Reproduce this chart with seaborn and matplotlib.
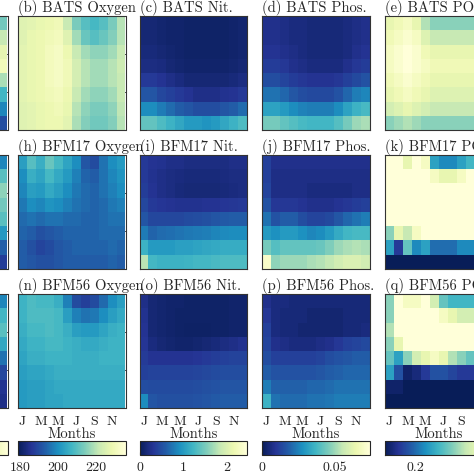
import numpy as np
import matplotlib
matplotlib.use("Agg")
import matplotlib.pyplot as plt
import seaborn as sns

sns.set_style("white")
plt.rcParams['font.family'] = ['cmr10', 'DejaVu Serif']
plt.rcParams['axes.formatter.use_mathtext'] = True

months = ["J", "", "M", "", "M", "", "J", "", "S", "", "N", ""]

# rows = depth (surface -> bottom), columns = months Jan..Dec
a_temp = [[0.60]*12, [0.75]*12, [0.85]*12, [0.90]*12, [0.70]*12, [0.50]*12, [0.35]*12, [0.20]*12]
b_oxy = [
 [226,227,228,229,230,222,214,210,208,210,214,220],
 [226,228,229,230,231,226,218,212,210,212,215,220],
 [227,228,229,231,232,229,222,218,216,216,218,222],
 [227,228,229,231,232,230,224,220,218,218,220,223],
 [227,228,229,231,232,230,224,220,218,218,220,222],
 [227,228,229,230,231,229,222,218,216,216,218,222],
 [226,227,228,229,230,228,220,216,214,214,216,221],
 [226,227,228,229,229,227,219,215,213,213,215,220]]
c_nit = [
 [0.15,0.15,0.12,0.10,0.10,0.08,0.08,0.08,0.08,0.08,0.10,0.12],
 [0.15,0.15,0.12,0.10,0.10,0.08,0.08,0.08,0.08,0.08,0.10,0.12],
 [0.18,0.18,0.15,0.12,0.10,0.08,0.08,0.08,0.08,0.08,0.10,0.12],
 [0.22,0.22,0.20,0.15,0.12,0.10,0.10,0.10,0.10,0.10,0.12,0.15],
 [0.35,0.35,0.30,0.25,0.20,0.15,0.15,0.15,0.15,0.15,0.18,0.22],
 [0.55,0.55,0.45,0.40,0.35,0.30,0.25,0.25,0.25,0.28,0.30,0.35],
 [0.90,0.90,0.80,0.70,0.60,0.55,0.50,0.50,0.50,0.55,0.60,0.70],
 [1.40,1.40,1.30,1.20,1.10,1.00,1.00,0.95,1.00,1.10,1.20,1.30]]
d_phos = [
 [0.008,0.008,0.007,0.006,0.006,0.005,0.005,0.005,0.005,0.006,0.007,0.008],
 [0.008,0.008,0.007,0.006,0.006,0.005,0.005,0.005,0.005,0.006,0.007,0.008],
 [0.009,0.009,0.008,0.007,0.006,0.005,0.005,0.005,0.005,0.006,0.008,0.009],
 [0.011,0.011,0.010,0.008,0.007,0.006,0.006,0.006,0.006,0.008,0.010,0.011],
 [0.015,0.015,0.013,0.011,0.010,0.009,0.009,0.009,0.010,0.012,0.014,0.016],
 [0.022,0.022,0.020,0.017,0.015,0.014,0.014,0.014,0.016,0.020,0.024,0.026],
 [0.032,0.032,0.030,0.027,0.025,0.024,0.024,0.024,0.027,0.032,0.036,0.038],
 [0.045,0.045,0.042,0.040,0.038,0.037,0.037,0.037,0.040,0.045,0.050,0.052]]
e_poc = [
 [0.36,0.37,0.38,0.36,0.32,0.30,0.30,0.30,0.30,0.30,0.30,0.30],
 [0.37,0.38,0.39,0.38,0.35,0.33,0.33,0.33,0.33,0.33,0.33,0.33],
 [0.38,0.39,0.40,0.39,0.37,0.36,0.36,0.36,0.36,0.36,0.36,0.36],
 [0.38,0.39,0.40,0.39,0.38,0.37,0.37,0.37,0.37,0.37,0.37,0.37],
 [0.37,0.38,0.39,0.38,0.37,0.36,0.36,0.36,0.36,0.36,0.36,0.36],
 [0.36,0.37,0.38,0.37,0.36,0.35,0.35,0.35,0.35,0.35,0.35,0.35],
 [0.34,0.35,0.36,0.35,0.34,0.33,0.33,0.33,0.33,0.33,0.33,0.33],
 [0.30,0.31,0.32,0.31,0.30,0.30,0.30,0.30,0.30,0.30,0.30,0.30]]
f_temp = [[0.35]*12, [0.55]*12, [0.65]*12, [0.60]*12, [0.55]*12, [0.40]*12, [0.25]*12, [0.15]*12]
h_oxy = [
 [203,210,206,212,208,204,200,192,190,196,200,202],
 [200,206,204,208,205,202,198,194,193,196,199,201],
 [199,203,202,205,203,200,197,195,194,196,198,200],
 [197,200,199,201,200,198,196,195,194,195,197,198],
 [195,196,195,196,196,195,195,194,194,195,196,196],
 [194,193,191,192,193,194,194,194,194,195,195,195],
 [193,191,189,190,192,193,194,194,194,194,195,194],
 [193,192,191,191,192,193,193,193,193,193,194,193]]
i_nit = [
 [0.35,0.30,0.28,0.25,0.25,0.22,0.22,0.22,0.22,0.22,0.25,0.25],
 [0.35,0.28,0.25,0.22,0.20,0.18,0.18,0.18,0.18,0.20,0.22,0.22],
 [0.38,0.30,0.25,0.22,0.18,0.16,0.16,0.16,0.16,0.18,0.20,0.22],
 [0.45,0.35,0.32,0.30,0.28,0.28,0.28,0.30,0.30,0.32,0.33,0.35],
 [0.55,0.45,0.45,0.45,0.45,0.48,0.50,0.52,0.55,0.58,0.60,0.60],
 [0.80,0.65,0.70,0.72,0.75,0.78,0.80,0.82,0.85,0.88,0.90,0.90],
 [1.20,1.00,1.00,1.00,1.05,1.05,1.08,1.10,1.12,1.15,1.15,1.15],
 [1.80,1.25,1.20,1.20,1.20,1.22,1.25,1.25,1.28,1.30,1.30,1.30]]
j_phos = [
 [0.012,0.008,0.008,0.008,0.008,0.008,0.008,0.008,0.008,0.008,0.008,0.008],
 [0.012,0.007,0.007,0.007,0.007,0.007,0.007,0.007,0.007,0.007,0.007,0.007],
 [0.013,0.007,0.007,0.007,0.007,0.006,0.006,0.006,0.006,0.006,0.007,0.007],
 [0.016,0.010,0.010,0.010,0.009,0.008,0.008,0.008,0.009,0.010,0.011,0.012],
 [0.022,0.016,0.018,0.018,0.015,0.013,0.013,0.014,0.017,0.020,0.022,0.024],
 [0.030,0.028,0.030,0.030,0.028,0.026,0.027,0.030,0.034,0.037,0.038,0.038],
 [0.045,0.040,0.042,0.042,0.042,0.042,0.043,0.046,0.050,0.052,0.053,0.052],
 [0.070,0.048,0.050,0.050,0.050,0.052,0.053,0.055,0.058,0.060,0.060,0.058]]
k_poc = [
 [0.40,0.40,0.36,0.40,0.38,0.24,0.22,0.22,0.24,0.26,0.28,0.30],
 [0.40,0.40,0.40,0.40,0.40,0.38,0.36,0.36,0.38,0.40,0.40,0.40],
 [0.40,0.40,0.40,0.40,0.40,0.40,0.40,0.40,0.40,0.40,0.40,0.40],
 [0.40,0.40,0.40,0.40,0.40,0.40,0.40,0.40,0.40,0.40,0.40,0.40],
 [0.40,0.40,0.40,0.40,0.40,0.40,0.40,0.40,0.40,0.40,0.40,0.40],
 [0.30,0.36,0.33,0.38,0.40,0.40,0.40,0.40,0.40,0.40,0.40,0.40],
 [0.24,0.16,0.28,0.22,0.24,0.20,0.20,0.20,0.22,0.22,0.24,0.24],
 [0.12,0.12,0.12,0.12,0.12,0.12,0.12,0.12,0.12,0.12,0.12,0.12]]
m_temp = [[0.35]*12, [0.50]*12, [0.55]*12, [0.45]*12, [0.30]*12, [0.18]*12, [0.12]*12, [0.10]*12]
n_oxy = [
 [207,209,208,208,206,198,190,188,190,195,200,203],
 [207,209,209,209,208,203,198,196,197,200,203,205],
 [206,208,208,209,208,206,203,202,202,204,206,207],
 [205,207,207,208,208,207,206,205,205,206,207,207],
 [204,206,206,207,207,207,206,206,206,207,207,207],
 [203,204,204,205,206,206,206,206,206,206,206,206],
 [202,203,203,204,205,205,205,205,205,205,205,205],
 [202,203,203,204,204,205,205,205,205,205,205,205]]
o_nit = [
 [0.25,0.15,0.12,0.10,0.10,0.08,0.08,0.08,0.08,0.08,0.10,0.10],
 [0.28,0.15,0.12,0.10,0.08,0.08,0.08,0.08,0.08,0.08,0.10,0.10],
 [0.30,0.15,0.12,0.10,0.08,0.07,0.07,0.07,0.08,0.08,0.10,0.10],
 [0.32,0.20,0.15,0.12,0.10,0.10,0.12,0.15,0.18,0.22,0.25,0.28],
 [0.36,0.30,0.30,0.30,0.30,0.30,0.32,0.35,0.38,0.40,0.42,0.42],
 [0.40,0.42,0.42,0.42,0.42,0.42,0.44,0.46,0.48,0.50,0.50,0.50],
 [0.50,0.48,0.48,0.48,0.48,0.48,0.50,0.52,0.54,0.55,0.55,0.55],
 [0.90,0.55,0.52,0.52,0.52,0.52,0.54,0.55,0.58,0.60,0.60,0.60]]
p_phos = [
 [0.008,0.006,0.006,0.005,0.005,0.005,0.005,0.005,0.005,0.005,0.005,0.005],
 [0.010,0.006,0.005,0.005,0.005,0.004,0.004,0.004,0.004,0.005,0.005,0.005],
 [0.012,0.006,0.005,0.005,0.004,0.004,0.004,0.004,0.004,0.005,0.005,0.006],
 [0.013,0.008,0.007,0.006,0.006,0.006,0.007,0.008,0.010,0.012,0.013,0.014],
 [0.015,0.012,0.012,0.012,0.012,0.012,0.013,0.015,0.016,0.017,0.018,0.018],
 [0.018,0.016,0.016,0.016,0.016,0.016,0.017,0.018,0.019,0.020,0.020,0.020],
 [0.024,0.019,0.019,0.019,0.019,0.020,0.020,0.021,0.022,0.022,0.022,0.022],
 [0.036,0.022,0.021,0.021,0.021,0.022,0.022,0.023,0.024,0.024,0.024,0.024]]
q_poc = [
 [0.30,0.40,0.38,0.38,0.40,0.34,0.28,0.26,0.26,0.26,0.26,0.26],
 [0.30,0.40,0.40,0.40,0.40,0.40,0.38,0.36,0.34,0.34,0.32,0.32],
 [0.32,0.40,0.40,0.40,0.40,0.40,0.40,0.40,0.40,0.40,0.40,0.40],
 [0.30,0.36,0.40,0.40,0.40,0.40,0.40,0.40,0.40,0.40,0.40,0.40],
 [0.28,0.24,0.30,0.34,0.36,0.38,0.36,0.32,0.30,0.28,0.26,0.26],
 [0.24,0.18,0.13,0.14,0.16,0.18,0.18,0.17,0.16,0.16,0.16,0.16],
 [0.13,0.13,0.12,0.12,0.12,0.12,0.12,0.12,0.12,0.12,0.12,0.12],
 [0.12,0.12,0.12,0.12,0.12,0.12,0.12,0.12,0.12,0.12,0.12,0.12]]

titles = [["", "(b) BATS Oxygen", "(c) BATS Nit.", "(d) BATS Phos.", "(e) BATS POC"],
          ["", "(h) BFM17 Oxygen", "(i) BFM17 Nit.", "(j) BFM17 Phos.", "(k) BFM17 POC"],
          ["", "(n) BFM56 Oxygen", "(o) BFM56 Nit.", "(p) BFM56 Phos.", "(q) BFM56 POC"]]
data = [[a_temp, b_oxy, c_nit, d_phos, e_poc],
        [f_temp, h_oxy, i_nit, j_phos, k_poc],
        [m_temp, n_oxy, o_nit, p_phos, q_poc]]
lims = [(0, 1), (179, 236), (0, 2.47), (0, 0.074), (0.12, 0.40)]
cticks = [[], [180, 200, 220], [0, 1, 2], [0, 0.05], [0.2, 0.4]]

W = H = 474
fig = plt.figure(figsize=(4.74, 4.74), dpi=100)
lefts = [-100, 18, 139.5, 262, 385]
pw = 107.5
tops = [16, 155, 294]
ph = 114
cmap = "YlGnBu_r"

def fa(x, y, w, h):
    return [x / W, 1 - (y + h) / H, w / W, h / H]

for r in range(3):
    for c in range(5):
        ax = fig.add_axes(fa(lefts[c], tops[r], pw, ph))
        sns.heatmap(np.array(data[r][c]), ax=ax, cmap=cmap, vmin=lims[c][0], vmax=lims[c][1], cbar=False)
        ax.set_xticks(np.arange(12) + 0.5)
        ax.set_yticks([8/3, 16/3])
        ax.set_yticklabels([])
        if r == 2:
            ax.set_xticklabels(months, rotation=0, fontsize=10)
            ax.set_xlabel("Months", fontsize=10.5, labelpad=-1)
        else:
            ax.set_xticklabels([])
        ax.tick_params(direction="in", length=2.5, width=0.6, top=True, right=True, left=True, bottom=True, pad=6, colors="#333333")
        ax.tick_params(axis="x", labelcolor="#222222")
        for s in ax.spines.values():
            s.set_visible(True); s.set_color("#333333"); s.set_linewidth(0.8)
        if titles[r][c]:
            ax.set_title(titles[r][c], loc="left", fontsize=10.5, pad=3)

for c in range(5):
    cax = fig.add_axes(fa(lefts[c], 441, pw, 14))
    sm = matplotlib.cm.ScalarMappable(norm=matplotlib.colors.Normalize(*lims[c]), cmap=cmap)
    cb = fig.colorbar(sm, cax=cax, orientation="horizontal")
    cb.set_ticks(cticks[c])
    cb.set_ticklabels([("{:g}".format(t)) for t in cticks[c]])
    cax.tick_params(direction="in", length=2, labelsize=10, pad=5)
    cb.outline.set_linewidth(0.8)

fig.savefig("out.png", dpi=100)
